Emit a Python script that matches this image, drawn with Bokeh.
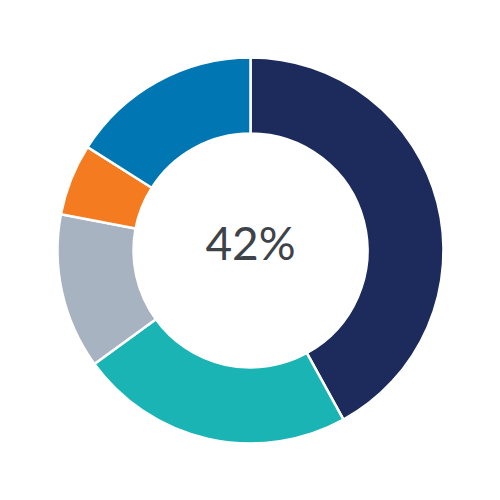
import numpy as np
from bokeh.core.properties import value
from bokeh.embed import file_html
from bokeh.models import ColumnDataSource
from bokeh.plotting import figure
from bokeh.resources import INLINE

# shares, clockwise from 12 o'clock
segments = ["A", "B", "C", "D", "E"]
shares = [42, 23, 13, 6, 16]
colors = ["#1c2b5b", "#1bb4b5", "#a8b3c2", "#f47b20", "#0076b3"]
center_label = "42%"

fractions = np.array(shares) / sum(shares)
ends = np.cumsum(fractions)
starts = ends - fractions
start_angles = np.pi / 2 - starts * 2 * np.pi
end_angles = np.pi / 2 - ends * 2 * np.pi

source = ColumnDataSource(data=dict(
    segment=segments,
    start=start_angles,
    end=end_angles,
    color=colors,
))

p = figure(width=500, height=500, x_range=(-250, 250), y_range=(-250, 250),
           output_backend="svg", toolbar_location=None, min_border=0)
p.axis.visible = False
p.grid.visible = False
p.outline_line_color = None
p.background_fill_color = "white"

p.annular_wedge(x=0, y=0, inner_radius=117, outer_radius=193,
                start_angle="end", end_angle="start",
                fill_color="color", line_color="white", line_width=2.5,
                source=source)

p.text(x=[0], y=[8], text=[center_label], text_align="center",
       text_baseline="middle", text_font=value("Lato"),
       text_font_size="46px", text_color="#3d4349")

open("out.html", "w").write(file_html(p, INLINE))
